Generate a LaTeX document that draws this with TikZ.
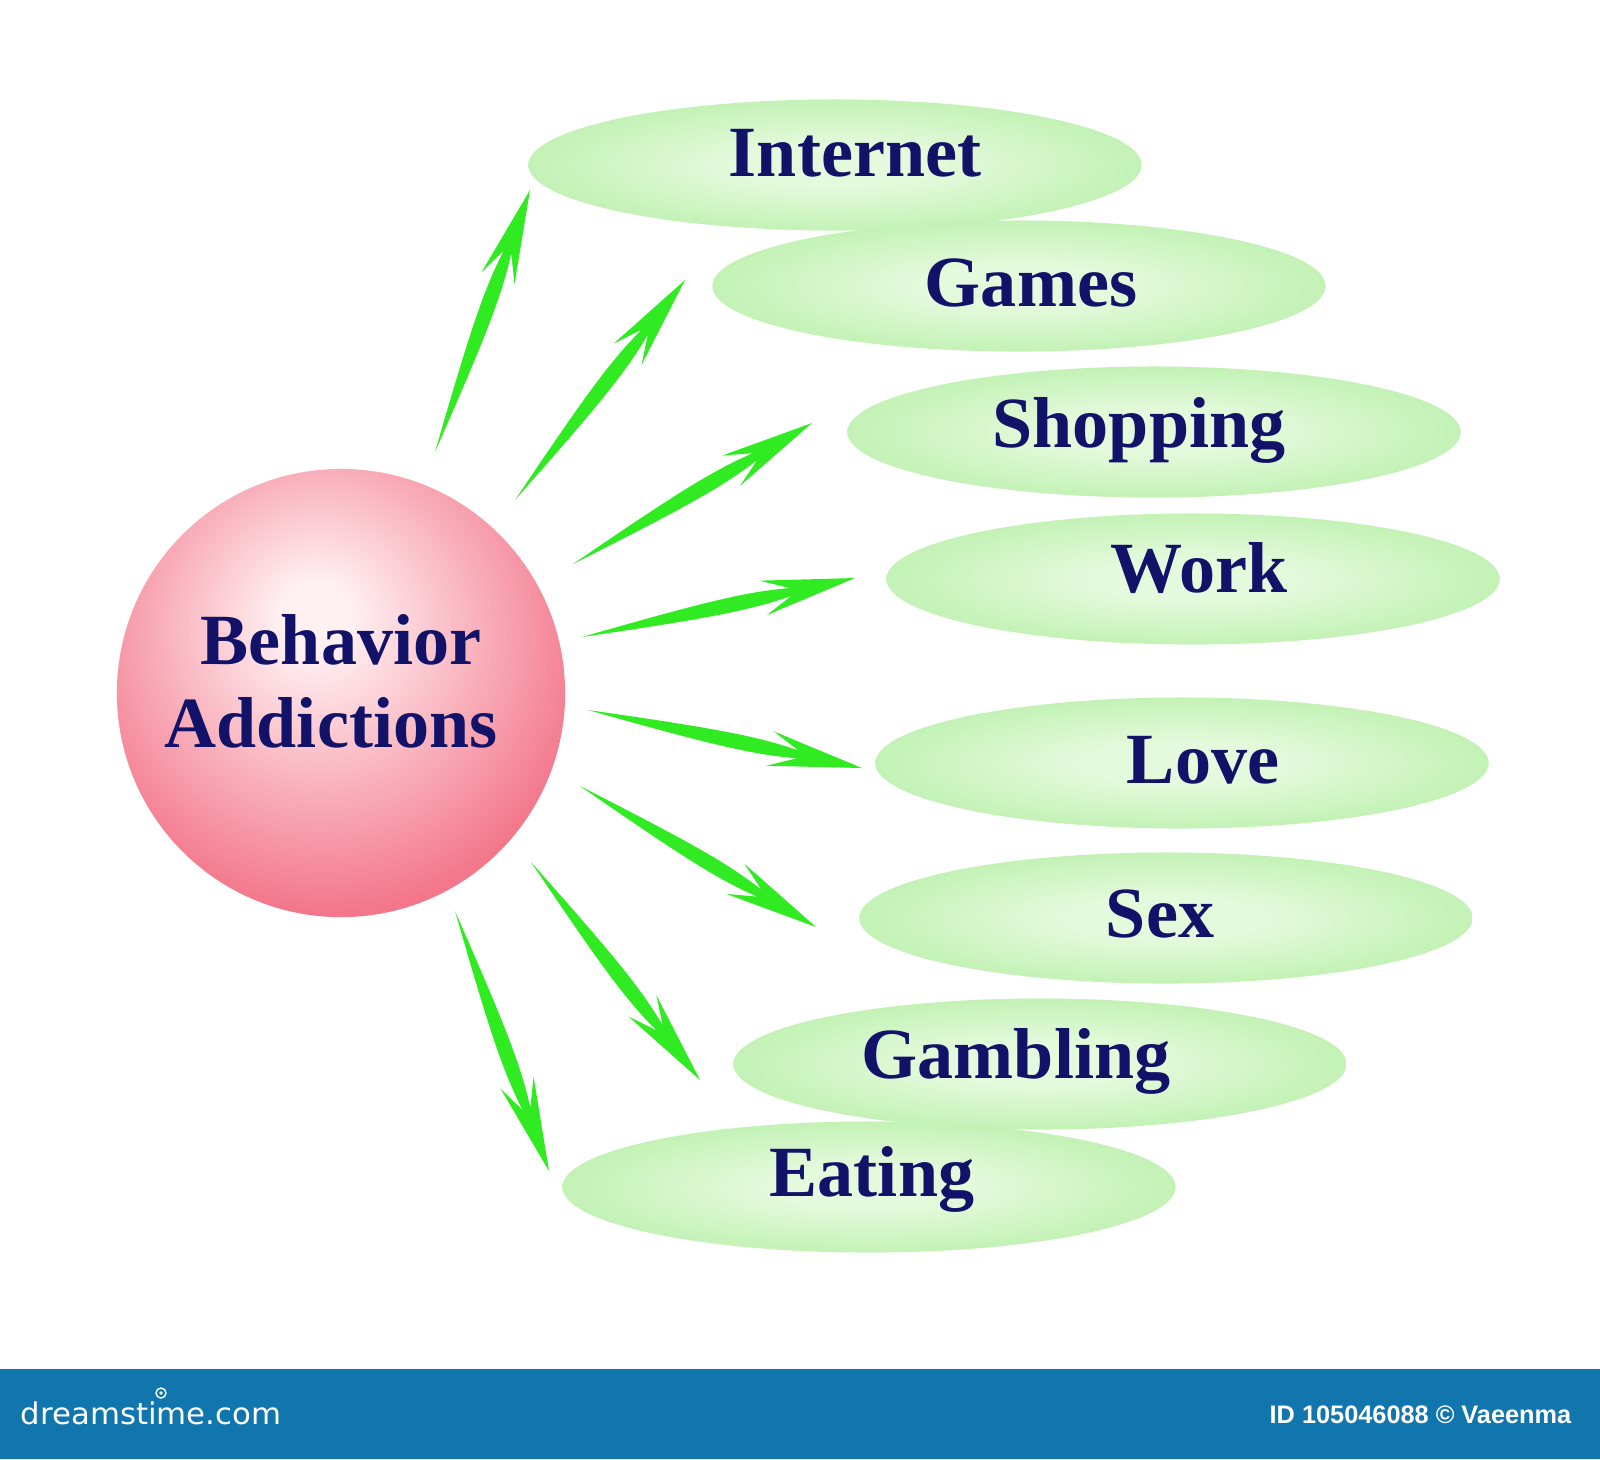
\documentclass[tikz,border=0pt]{standalone}
\usepackage{fontspec}
\setmainfont{Liberation Serif}
\newfontfamily\barfont{Liberation Sans}
\newfontfamily\logofont{DejaVu Sans}
\usetikzlibrary{calc,shapes.geometric}

\definecolor{navytext}{RGB}{18,18,105}
\definecolor{arrowgreen}{RGB}{48,234,34}
\definecolor{ellin}{RGB}{228,250,220}
\definecolor{ellout}{RGB}{155,232,134}
\definecolor{ballhi}{RGB}{255,240,242}
\definecolor{ballout}{RGB}{243,118,138}
\definecolor{barblue}{RGB}{16,118,173}

\pgfdeclareradialshading{ellglow}{\pgfpointorigin}{color(0bp)=(ellin); color(8bp)=(ellin); color(46bp)=(ellout); color(60bp)=(ellout)}
\pgfdeclareradialshading{ballpink}{\pgfpoint{-3bp}{9bp}}{color(0bp)=(ballhi); color(4bp)=(ballhi); color(30bp)=(ballout); color(75bp)=(ballout)}

\begin{document}
\begin{tikzpicture}[x=0.01cm,y=-0.01cm,
  ell/.style={ellipse, minimum width=6.13cm, minimum height=1.31cm, inner sep=0pt, shading=ellglow},
  lbl/.style={anchor=base, text=navytext, inner sep=0pt, font=\bfseries\fontsize{20.5}{24}\selectfont},
  hubball/.style={circle, minimum size=4.48cm, inner sep=0pt, shading=ballpink},
  spear/.style={fill=arrowgreen, draw=none,
    to path={(\tikztostart)
      .. controls ($(\tikztostart)!0.45!3.8:(\tikztotarget)$) and ($(\tikztotarget)!1.104cm!-5:(\tikztostart)$)
      .. ($(\tikztotarget)!0.661cm!-3.5:(\tikztostart)$)
      -- ($(\tikztotarget)!0.955cm!-10.6:(\tikztostart)$)
      -- (\tikztotarget)
      -- ($(\tikztotarget)!0.955cm!10.6:(\tikztostart)$)
      -- ($(\tikztotarget)!0.661cm!3.5:(\tikztostart)$)
      .. controls ($(\tikztotarget)!1.104cm!5:(\tikztostart)$) and ($(\tikztostart)!0.45!-3.8:(\tikztotarget)$)
      .. (\tikztostart) -- cycle}},
  barstyle/.style={text=white, inner sep=0pt}
]
\useasboundingbox (0,0) rectangle (1600,1459);
\fill[white] (0,0) rectangle (1600,1459);

% ellipses (drawn bottom-up so upper ones overlap lower)
\node[ell] (e8) at (869,1187) {};
\node[ell] (e7) at (1040,1064) {};
\node[ell] (e6) at (1166,918) {};
\node[ell] (e5) at (1182,763) {};
\node[ell] (e4) at (1193,579) {};
\node[ell] (e3) at (1154,432) {};
\node[ell] (e2) at (1019,286) {};
\node[ell] (e1) at (835,165) {};

\node[lbl] (l1) at (855,176) {Internet};
\node[lbl] (l2) at (1031,306) {Games};
\node[lbl] (l3) at (1139,447) {Shopping};
\node[lbl] (l4) at (1199,592) {Work};
\node[lbl] (l5) at (1203,783) {Love};
\node[lbl] (l6) at (1160,937) {Sex};
\node[lbl] (l7) at (1016,1078) {Gambling};
\node[lbl] (l8) at (872,1196) {Eating};

% hub
\node[hubball] (hub) at (341,693) {};
\node[lbl] (hubA) at (341,664) {Behavior};
\node[lbl] (hubB) at (331,747) {Addictions};

% arrows
\coordinate (t1) at (435,452);  \coordinate (h1) at (530,190);
\coordinate (t2) at (515,500);  \coordinate (h2) at (685,280);
\coordinate (t3) at (573,564);  \coordinate (h3) at (812,423);
\coordinate (t4) at (582,637);  \coordinate (h4) at (855,578);
\coordinate (t5) at (588,710);  \coordinate (h5) at (862,768);
\coordinate (t6) at (580,786);  \coordinate (h6) at (816,927);
\coordinate (t7) at (531,862);  \coordinate (h7) at (700,1080);
\coordinate (t8) at (455,911);  \coordinate (h8) at (549,1171);
\foreach \i in {1,...,8}{\path[spear] (t\i) to (h\i);}

% bottom bar
\fill[barblue] (0,1369) rectangle (1600,1459);
\node[barstyle, anchor=base west] (logo) at (20,1424)
  {\scalebox{1.03}[1]{\logofont\fontsize{8.5}{10}\selectfont dreamstime.com}};
\draw[white, line width=0.014cm] (161,1393) circle[radius=5];
\fill[white] (161,1393) circle[radius=1.8];
\node[barstyle, anchor=base east] (credit) at (1572,1423)
  {\barfont\bfseries\fontsize{7.2}{8}\selectfont ID 105046088 © Vaeenma};
\end{tikzpicture}
\end{document}
